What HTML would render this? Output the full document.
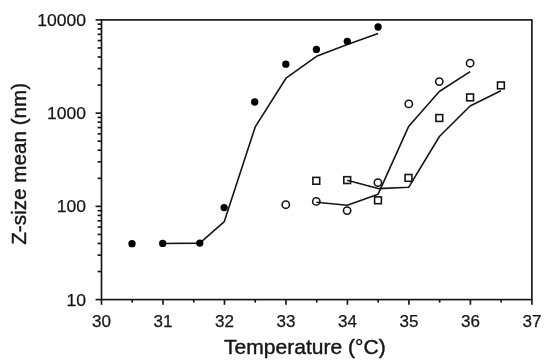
<!DOCTYPE html>
<html><head><meta charset="utf-8"><title>Z-size mean vs Temperature</title>
<style>html,body{margin:0;padding:0;background:#fff;}body{width:550px;height:364px;overflow:hidden;}svg{display:block;filter:blur(0.35px);}text{font-family:"Liberation Sans",Arial,Helvetica,sans-serif;fill:#151515;stroke:#151515;stroke-width:0.4px;}.tk text{stroke-width:0.25px;}</style></head><body>
<svg width="550" height="364" viewBox="0 0 550 364">
<rect width="550" height="364" fill="#fff"/>
<g stroke="#151515" stroke-width="1.65" fill="none" stroke-linecap="butt">
<rect x="101.50" y="19.90" width="430.40" height="279.70"/>
<line x1="95.6" y1="299.60" x2="101.50" y2="299.60"/>
<line x1="97.6" y1="271.53" x2="101.50" y2="271.53"/>
<line x1="97.6" y1="255.12" x2="101.50" y2="255.12"/>
<line x1="97.6" y1="243.47" x2="101.50" y2="243.47"/>
<line x1="97.6" y1="234.43" x2="101.50" y2="234.43"/>
<line x1="97.6" y1="227.05" x2="101.50" y2="227.05"/>
<line x1="97.6" y1="220.81" x2="101.50" y2="220.81"/>
<line x1="97.6" y1="215.40" x2="101.50" y2="215.40"/>
<line x1="97.6" y1="210.63" x2="101.50" y2="210.63"/>
<line x1="95.6" y1="206.37" x2="101.50" y2="206.37"/>
<line x1="97.6" y1="178.30" x2="101.50" y2="178.30"/>
<line x1="97.6" y1="161.88" x2="101.50" y2="161.88"/>
<line x1="97.6" y1="150.23" x2="101.50" y2="150.23"/>
<line x1="97.6" y1="141.20" x2="101.50" y2="141.20"/>
<line x1="97.6" y1="133.82" x2="101.50" y2="133.82"/>
<line x1="97.6" y1="127.58" x2="101.50" y2="127.58"/>
<line x1="97.6" y1="122.17" x2="101.50" y2="122.17"/>
<line x1="97.6" y1="117.40" x2="101.50" y2="117.40"/>
<line x1="95.6" y1="113.13" x2="101.50" y2="113.13"/>
<line x1="97.6" y1="85.07" x2="101.50" y2="85.07"/>
<line x1="97.6" y1="68.65" x2="101.50" y2="68.65"/>
<line x1="97.6" y1="57.00" x2="101.50" y2="57.00"/>
<line x1="97.6" y1="47.97" x2="101.50" y2="47.97"/>
<line x1="97.6" y1="40.58" x2="101.50" y2="40.58"/>
<line x1="97.6" y1="34.34" x2="101.50" y2="34.34"/>
<line x1="97.6" y1="28.94" x2="101.50" y2="28.94"/>
<line x1="97.6" y1="24.17" x2="101.50" y2="24.17"/>
<line x1="95.6" y1="19.90" x2="101.50" y2="19.90"/>
<line x1="101.50" y1="299.60" x2="101.50" y2="304.8"/>
<line x1="132.24" y1="299.60" x2="132.24" y2="302.6"/>
<line x1="162.99" y1="299.60" x2="162.99" y2="304.8"/>
<line x1="193.73" y1="299.60" x2="193.73" y2="302.6"/>
<line x1="224.47" y1="299.60" x2="224.47" y2="304.8"/>
<line x1="255.21" y1="299.60" x2="255.21" y2="302.6"/>
<line x1="285.96" y1="299.60" x2="285.96" y2="304.8"/>
<line x1="316.70" y1="299.60" x2="316.70" y2="302.6"/>
<line x1="347.44" y1="299.60" x2="347.44" y2="304.8"/>
<line x1="378.19" y1="299.60" x2="378.19" y2="302.6"/>
<line x1="408.93" y1="299.60" x2="408.93" y2="304.8"/>
<line x1="439.67" y1="299.60" x2="439.67" y2="302.6"/>
<line x1="470.41" y1="299.60" x2="470.41" y2="304.8"/>
<line x1="501.16" y1="299.60" x2="501.16" y2="302.6"/>
<line x1="531.90" y1="299.60" x2="531.90" y2="304.8"/>
</g>
<g class="tk" font-size="17px">
<text x="86.0" y="305.70" text-anchor="end" textLength="19.5" lengthAdjust="spacingAndGlyphs">10</text>
<text x="86.0" y="212.47" text-anchor="end" textLength="29.2" lengthAdjust="spacingAndGlyphs">100</text>
<text x="86.0" y="119.23" text-anchor="end" textLength="38.9" lengthAdjust="spacingAndGlyphs">1000</text>
<text x="86.0" y="26.00" text-anchor="end" textLength="48.7" lengthAdjust="spacingAndGlyphs">10000</text>
<text x="101.50" y="327.2" text-anchor="middle">30</text>
<text x="162.99" y="327.2" text-anchor="middle">31</text>
<text x="224.47" y="327.2" text-anchor="middle">32</text>
<text x="285.96" y="327.2" text-anchor="middle">33</text>
<text x="347.44" y="327.2" text-anchor="middle">34</text>
<text x="408.93" y="327.2" text-anchor="middle">35</text>
<text x="470.41" y="327.2" text-anchor="middle">36</text>
<text x="531.90" y="327.2" text-anchor="middle">37</text>
</g>
<text x="304.9" y="353.5" font-size="20.3px" text-anchor="middle" textLength="161.6" lengthAdjust="spacingAndGlyphs">Temperature (°C)</text>
<text transform="translate(26.3,163.8) rotate(-90)" font-size="20.3px" text-anchor="middle" textLength="162" lengthAdjust="spacingAndGlyphs">Z-size mean (nm)</text>
<g stroke="#151515" stroke-width="1.6" fill="none" stroke-linejoin="round">
<polyline points="162.9,243.5 199.8,243.1 224.3,221.6 255.2,126.9 286.0,78.2 316.6,56.3 347.3,44.6 378.1,33.4"/>
<polyline points="316.3,202.2 347.3,205.2 378.1,194.2 408.8,126.2 439.3,91.5 470.1,71.6"/>
<polyline points="347.1,180.3 378.2,188.6 408.8,187.2 439.4,136.5 470.1,106.0 500.9,90.7"/>
</g>
<g fill="#000">
<circle cx="132.0" cy="243.7" r="3.65"/>
<circle cx="162.7" cy="243.4" r="3.65"/>
<circle cx="199.8" cy="243.1" r="3.65"/>
<circle cx="224.1" cy="207.6" r="3.65"/>
<circle cx="254.7" cy="102.0" r="3.65"/>
<circle cx="285.8" cy="64.2" r="3.65"/>
<circle cx="316.4" cy="49.4" r="3.65"/>
<circle cx="347.3" cy="41.3" r="3.65"/>
<circle cx="378.1" cy="27.0" r="3.65"/>
</g>
<g fill="none" stroke="#151515" stroke-width="1.6">
<circle cx="285.8" cy="204.7" r="3.65"/>
<circle cx="316.3" cy="201.4" r="3.65"/>
<circle cx="347.1" cy="210.6" r="3.65"/>
<circle cx="377.9" cy="182.6" r="3.65"/>
<circle cx="408.8" cy="103.9" r="3.65"/>
<circle cx="439.3" cy="81.6" r="3.65"/>
<circle cx="470.1" cy="63.2" r="3.65"/>
<rect x="312.9" y="177.4" width="6.8" height="6.8"/>
<rect x="343.8" y="176.7" width="6.8" height="6.8"/>
<rect x="374.6" y="196.9" width="6.8" height="6.8"/>
<rect x="405.1" y="174.5" width="6.8" height="6.8"/>
<rect x="435.9" y="114.6" width="6.8" height="6.8"/>
<rect x="466.7" y="94.0" width="6.8" height="6.8"/>
<rect x="497.5" y="82.0" width="6.8" height="6.8"/>
</g>
</svg></body></html>
